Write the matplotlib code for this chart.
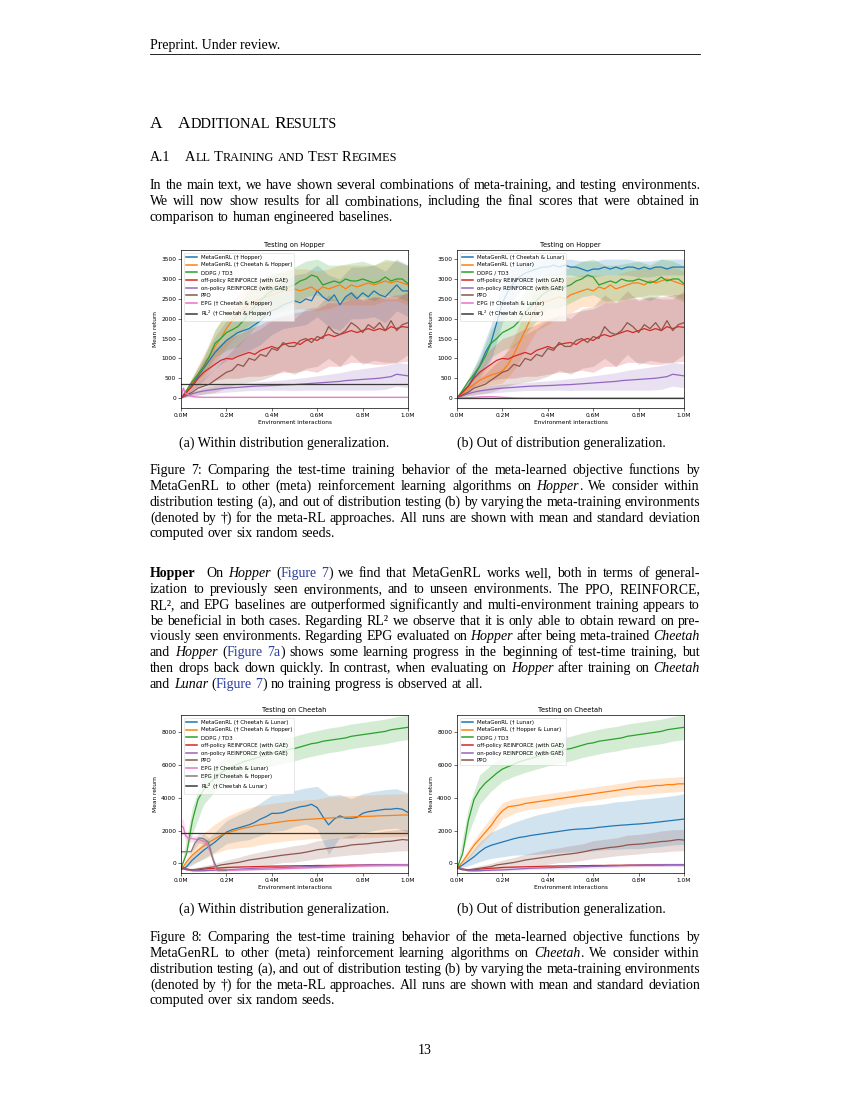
import numpy as np
import matplotlib
matplotlib.use('Agg')
import matplotlib.pyplot as plt
from matplotlib.lines import Line2D

# ---------------------------------------------------------------- data
steps = np.linspace(0.0, 1.0, 41)          # million environment interactions

# Hopper baselines (shared by both Hopper panels)
hop_ddpg = [0, 200, 420, 600, 800, 1050, 1380, 1500, 1650, 1720, 1800, 1950, 2150, 2300, 2450,
            2600, 2700, 2750, 2720, 2800, 2850, 2950, 3000, 3100, 3050, 2850, 2900, 2950, 2900,
            3000, 2950, 2950, 3000, 2950, 2900, 2950, 3050, 2950, 3000, 3000, 2880]
hop_ddpg_sd = [0, 100, 200, 350, 450, 500, 550, 500, 450, 450, 450, 450, 450, 450, 450, 450, 450,
               450, 450, 450, 450]
hop_offpol = [0, 150, 300, 500, 650, 750, 850, 950, 1000, 980, 1050, 1100, 1150, 1100, 1200, 1250,
              1300, 1250, 1350, 1380, 1400, 1350, 1450, 1500, 1450, 1550, 1600, 1550, 1600, 1650,
              1700, 1650, 1700, 1750, 1700, 1750, 1700, 1800, 1750, 1800, 1780]
hop_offpol_sd = [0, 100, 300, 400, 500, 550, 600, 650, 700, 700, 750, 750, 800, 800, 800, 800, 800,
                 850, 850, 850, 850]
hop_onpol = [0, 60, 110, 150, 180, 200, 220, 240, 250, 260, 270, 280, 290, 300, 305, 310, 315, 320,
             330, 335, 340, 350, 360, 370, 380, 390, 400, 410, 420, 440, 450, 460, 470, 480, 490,
             500, 520, 540, 600, 580, 560]
hop_onpol_sd = [0, 50, 80, 100, 100, 100, 100, 110, 120, 130, 150, 160, 180, 200, 220, 250, 270,
                290, 300, 300, 300]
hop_ppo = [0, 80, 150, 250, 300, 350, 450, 550, 650, 700, 850, 800, 1000, 950, 1100, 1050, 1250,
           1200, 1400, 1300, 1300, 1450, 1500, 1400, 1550, 1500, 1800, 1650, 1600, 1700, 1900, 1800,
           1650, 1850, 1750, 1900, 1700, 1950, 1700, 1850, 1900]
hop_ppo_sd = [0, 100, 200, 300, 400, 500, 600, 650, 700, 700, 700, 750, 750, 800, 800, 800, 800,
              800, 800, 800, 800]

# Hopper (a)
hopA_mg1 = [0, 150, 350, 550, 750, 950, 1150, 1300, 1450, 1550, 1650, 1700, 1750, 1850, 1950, 2100,
            2200, 2250, 2350, 2400, 2450, 2400, 2500, 2450, 2700, 2550, 2450, 2600, 2350, 2550,
            2650, 2500, 2650, 2550, 2700, 2600, 2550, 2700, 2850, 2700, 2700]
hopA_mg1_sd = [0, 150, 300, 400, 500, 550, 550, 600, 600, 600, 650, 650, 650, 650, 650, 650, 650,
               650, 650, 650, 650]
hopA_mg2 = [0, 180, 400, 600, 800, 1050, 1300, 1500, 1750, 1950, 2100, 2250, 2350, 2450, 2500, 2550,
            2600, 2650, 2700, 2700, 2750, 2700, 2750, 2800, 2700, 2800, 2750, 2800, 2850, 2750,
            2850, 2800, 2850, 2900, 2850, 2900, 2950, 2900, 2950, 2900, 2850]
hopA_mg2_sd = [0, 150, 300, 400, 450, 500, 500, 500, 500, 500, 500, 500, 500, 500, 500, 500, 500,
               500, 500, 500, 500]
hopA_epg_x = [0, 0.01, 0.02, 0.04, 0.06, 0.1, 0.2, 0.4, 0.6, 0.8, 1.0]
hopA_epg = [0, 250, 120, 60, 30, 20, 20, 20, 20, 20, 20]
hopA_epg_sd = [0, 80, 60, 40, 20, 10, 10, 10, 10, 10, 10]
hopA_rl2 = 355

# Hopper (b)
hopB_mg1 = [0, 150, 300, 550, 800, 1150, 1400, 1900, 2400, 2700, 2900, 3050, 3150, 3200, 3250, 3300,
            3300, 3350, 3300, 3350, 3300, 3300, 3250, 3200, 3250, 3250, 3300, 3250, 3300, 3250,
            3300, 3300, 3250, 3300, 3250, 3300, 3300, 3250, 3300, 3300, 3300]
hopB_mg1_sd = [0, 150, 300, 450, 500, 400, 300, 250, 200, 200, 200, 200, 200, 200, 200, 200, 200,
               200, 200, 200, 200]
hopB_mg2 = [0, 120, 250, 350, 450, 520, 580, 620, 680, 850, 1100, 1400, 1700, 2000, 2300, 2400, 2450,
            2500, 2550, 2500, 2600, 2650, 2700, 2750, 2700, 2800, 2750, 2850, 2750, 2800, 2850,
            2900, 2900, 2850, 2950, 2900, 2950, 3000, 2950, 2900, 2850]
hopB_mg2_sd = [0, 100, 200, 250, 300, 400, 500, 600, 600, 500, 450, 400, 400, 350, 350, 350, 350,
               350, 350, 350, 350]
hopB_epg_x = [0, 0.05, 0.1, 0.15, 0.2, 0.25, 0.3, 0.6, 1.0]
hopB_epg = [0, 10, 30, 35, 20, 5, 0, 0, 0]
hopB_epg_sd = [0, 10, 20, 20, 15, 5, 0, 0, 0]
hopB_rl2 = 0

# Cheetah baselines (shared by both Cheetah panels)
che_ddpg = [-300, 600, 2600, 3900, 4500, 4900, 5200, 5500, 5750, 5900, 6050, 6200, 6300, 6400, 6500,
            6600, 6700, 6800, 6850, 6950, 7000, 7100, 7200, 7300, 7350, 7450, 7500, 7550, 7600,
            7650, 7750, 7800, 7850, 7900, 7950, 8000, 8050, 8150, 8200, 8250, 8300]
che_ddpg_sd = [0, 800, 900, 800, 750, 750, 750, 750, 750, 750, 750, 750, 750, 750, 750, 750, 750,
               750, 750, 750, 750]
che_offpol = [-200, -350, -420, -400, -350, -320, -300, -280, -250, -240, -230, -220, -210, -200,
              -190, -180, -170, -170, -160, -160, -150, -150, -140, -140, -130, -130, -130, -120,
              -120, -120, -110, -110, -110, -100, -100, -100, -100, -90, -90, -90, -90]
che_offpol_sd = [0, 100, 80, 70, 60, 60, 60, 60, 60, 60, 60, 60, 60, 60, 60, 60, 60, 60, 60, 60, 60]
che_onpol = [-250, -350, -420, -450, -450, -430, -420, -410, -400, -380, -360, -340, -320, -300,
             -290, -280, -270, -260, -250, -240, -230, -220, -210, -200, -190, -180, -170, -160,
             -150, -140, -130, -120, -110, -100, -100, -90, -90, -80, -80, -80, -80]
che_onpol_sd = [0, 50, 50, 50, 50, 60, 70, 80, 90, 100, 100, 100, 100, 100, 100, 100, 100, 100, 100,
                100, 100]
che_ppo = [-300, -400, -400, -350, -300, -250, -200, -100, -50, 0, 50, 120, 200, 250, 300, 350, 400,
           450, 500, 540, 580, 620, 680, 750, 830, 870, 920, 970, 1000, 1050, 1120, 1150, 1170,
           1200, 1250, 1280, 1330, 1350, 1400, 1450, 1420]
che_ppo_sd = [0, 100, 150, 200, 250, 300, 350, 400, 450, 450, 500, 500, 550, 550, 550, 600, 600, 600,
              650, 650, 650]

# Cheetah (a)
cheA_mg1 = [-400, -200, 200, 500, 800, 1050, 1300, 1600, 1900, 2050, 2150, 2250, 2350, 2500, 2700,
            2850, 3050, 3050, 3100, 3250, 3350, 3450, 3500, 3600, 3400, 2850, 2350, 2700, 2900,
            2750, 2750, 2800, 3050, 3150, 3200, 3250, 3300, 3300, 3350, 3300, 3100]
cheA_mg1_sd = [0, 300, 500, 600, 700, 800, 900, 1000, 1100, 1100, 1100, 1100, 1300, 1800, 1300, 1200,
               1200, 1200, 1200, 1200, 1200]
cheA_mg2 = [-400, 100, 500, 800, 1050, 1300, 1500, 1700, 1850, 1950, 2050, 2150, 2200, 2300, 2350,
            2400, 2450, 2500, 2550, 2600, 2620, 2650, 2680, 2700, 2720, 2740, 2760, 2780, 2800,
            2820, 2830, 2850, 2860, 2870, 2880, 2900, 2910, 2920, 2930, 2950, 2950]
cheA_mg2_sd = [0, 500, 800, 900, 1000, 1100, 1200, 1200, 1200, 1200, 1200, 1200, 1200, 1300, 1300,
               1300, 1300, 1300, 1300, 1300, 1300]
cheA_epg1_x = [0, 0.01, 0.02, 0.03, 0.05, 0.08, 0.11, 0.13, 0.155, 0.2, 0.4, 0.6, 0.8, 1.0]
cheA_epg1 = [2300, 2200, 1700, 1550, 1500, 1450, 1300, 700, -420, -430, -350, -250, -150, -100]
cheA_epg1_sd = [500, 450, 300, 250, 200, 200, 200, 200, 100, 50, 50, 50, 50, 50]
cheA_epg2_x = [0, 0.02, 0.045, 0.06, 0.08, 0.1, 0.12, 0.14, 0.16, 0.2]
cheA_epg2 = [710, 710, 720, 1200, 1550, 1500, 1300, 300, -400, -430]
cheA_epg2_sd = [80, 80, 80, 300, 300, 300, 300, 200, 100, 50]
cheA_rl2 = 1870

# Cheetah (b)
cheB_mg1 = [-300, -100, 150, 400, 700, 950, 1100, 1200, 1300, 1400, 1500, 1580, 1630, 1700, 1750,
            1800, 1850, 1900, 1950, 2000, 2050, 2080, 2100, 2120, 2150, 2200, 2230, 2270, 2300,
            2330, 2350, 2380, 2400, 2430, 2460, 2500, 2540, 2580, 2620, 2660, 2700]
cheB_mg1_sd = [0, 300, 600, 800, 900, 1000, 1100, 1200, 1250, 1300, 1350, 1400, 1400, 1400, 1450,
               1450, 1500, 1500, 1500, 1500, 1550]
cheB_mg2 = [-300, 100, 600, 1100, 1500, 1900, 2300, 2800, 3200, 3450, 3500, 3550, 3650, 3700, 3750,
            3800, 3850, 3900, 3950, 4000, 4050, 4100, 4150, 4200, 4250, 4300, 4350, 4400, 4450,
            4500, 4550, 4600, 4650, 4650, 4700, 4750, 4750, 4800, 4800, 4850, 4850]
cheB_mg2_sd = [0, 300, 400, 500, 500, 450, 400, 400, 400, 400, 400, 400, 400, 400, 400, 400, 450,
               450, 450, 450, 450]

x_ticks = [0.0, 0.2, 0.4, 0.6, 0.8, 1.0]
x_ticklabels = ['0.0M', '0.2M', '0.4M', '0.6M', '0.8M', '1.0M']
hop_yticks = [0, 500, 1000, 1500, 2000, 2500, 3000, 3500]
che_yticks = [0, 2000, 4000, 6000, 8000]

# ---------------------------------------------------------------- style
W, H = 850, 1100
C_BLUE, C_ORANGE, C_GREEN, C_RED = '#1f77b4', '#ff7f0e', '#2ca02c', '#d62728'
C_PURPLE, C_BROWN, C_PINK, C_GRAY = '#9467bd', '#8c564b', '#e377c2', '#7f7f7f'
C_RL2 = '#3a3a3a'
LINK = '#2b3fa0'
SERIF = 'Liberation Serif'

fig = plt.figure(figsize=(W / 100, H / 100), dpi=100)
fig.patch.set_facecolor('white')


def panel(rect, title, curves, ylim, yticks, rl2=None, rl2_label=None):
    l, t, r, b = rect
    ax = fig.add_axes([l / W, 1 - b / H, (r - l) / W, (b - t) / H])
    for xs, m, sd, color, label in curves:
        xs = np.asarray(xs, float)
        m = np.asarray(m, float)
        sd = np.asarray(sd, float)
        if len(sd) == len(m):
            bx, bm = xs, m
        else:
            bx, bm = xs[::2], m[::2]
        ax.fill_between(bx * 1e6, bm - sd, bm + sd, color=color, alpha=0.2, lw=0, zorder=1)
    for xs, m, sd, color, label in curves:
        ax.plot(np.asarray(xs, float) * 1e6, m, color=color, lw=0.9, label=label, zorder=2)
    if rl2 is not None:
        ax.axhline(rl2, color=C_RL2, lw=0.9, label=rl2_label, zorder=2)
    ax.set_xlim(0, 1e6)
    ax.set_ylim(*ylim)
    ax.set_xticks([v * 1e6 for v in x_ticks])
    ax.set_xticklabels(x_ticklabels)
    ax.set_yticks(yticks)
    ax.tick_params(labelsize=4.2, length=2, width=0.4, pad=1.5)
    for s in ax.spines.values():
        s.set_linewidth(0.5)
    ax.set_title(title, fontsize=4.8, pad=2.5)
    ax.set_xlabel('Environment interactions', fontsize=4.2, labelpad=1.2)
    ax.set_ylabel('Mean return', fontsize=4.2, labelpad=2)
    leg = ax.legend(loc='upper left', fontsize=3.85, framealpha=0.8, borderpad=0.4,
                    handlelength=2.0, labelspacing=0.5, borderaxespad=0.5)
    leg.get_frame().set_linewidth(0.4)
    for h in leg.get_lines():
        h.set_linewidth(1.1)
    return ax


OFF = 'off-policy REINFORCE (with GAE)'
ON = 'on-policy REINFORCE (with GAE)'

panel((181, 250, 408, 408), 'Testing on Hopper', [
    (steps, hopA_mg1, hopA_mg1_sd, C_BLUE, 'MetaGenRL († Hopper)'),
    (steps, hopA_mg2, hopA_mg2_sd, C_ORANGE, 'MetaGenRL († Cheetah & Hopper)'),
    (steps, hop_ddpg, hop_ddpg_sd, C_GREEN, 'DDPG / TD3'),
    (steps, hop_offpol, hop_offpol_sd, C_RED, OFF),
    (steps, hop_onpol, hop_onpol_sd, C_PURPLE, ON),
    (steps, hop_ppo, hop_ppo_sd, C_BROWN, 'PPO'),
    (hopA_epg_x, hopA_epg, hopA_epg_sd, C_PINK, 'EPG († Cheetah & Hopper)'),
], (-250, 3730), hop_yticks, hopA_rl2, 'RL$^2$ († Cheetah & Hopper)')

panel((457, 250, 684, 408), 'Testing on Hopper', [
    (steps, hopB_mg1, hopB_mg1_sd, C_BLUE, 'MetaGenRL († Cheetah & Lunar)'),
    (steps, hopB_mg2, hopB_mg2_sd, C_ORANGE, 'MetaGenRL († Lunar)'),
    (steps, hop_ddpg, hop_ddpg_sd, C_GREEN, 'DDPG / TD3'),
    (steps, hop_offpol, hop_offpol_sd, C_RED, OFF),
    (steps, hop_onpol, hop_onpol_sd, C_PURPLE, ON),
    (steps, hop_ppo, hop_ppo_sd, C_BROWN, 'PPO'),
    (hopB_epg_x, hopB_epg, hopB_epg_sd, C_PINK, 'EPG († Cheetah & Lunar)'),
], (-250, 3730), hop_yticks, hopB_rl2, 'RL$^2$ († Cheetah & Lunar)')

panel((181, 715, 408, 873), 'Testing on Cheetah', [
    (steps, cheA_mg1, cheA_mg1_sd, C_BLUE, 'MetaGenRL († Cheetah & Lunar)'),
    (steps, cheA_mg2, cheA_mg2_sd, C_ORANGE, 'MetaGenRL († Cheetah & Hopper)'),
    (steps, che_ddpg, che_ddpg_sd, C_GREEN, 'DDPG / TD3'),
    (steps, che_offpol, che_offpol_sd, C_RED, OFF),
    (steps, che_onpol, che_onpol_sd, C_PURPLE, ON),
    (steps, che_ppo, che_ppo_sd, C_BROWN, 'PPO'),
    (cheA_epg1_x, cheA_epg1, cheA_epg1_sd, C_PINK, 'EPG († Cheetah & Lunar)'),
    (cheA_epg2_x, cheA_epg2, cheA_epg2_sd, C_GRAY, 'EPG († Cheetah & Hopper)'),
], (-590, 9050), che_yticks, cheA_rl2, 'RL$^2$ († Cheetah & Lunar)')

panel((457, 715, 684, 873), 'Testing on Cheetah', [
    (steps, cheB_mg1, cheB_mg1_sd, C_BLUE, 'MetaGenRL († Lunar)'),
    (steps, cheB_mg2, cheB_mg2_sd, C_ORANGE, 'MetaGenRL († Hopper & Lunar)'),
    (steps, che_ddpg, che_ddpg_sd, C_GREEN, 'DDPG / TD3'),
    (steps, che_offpol, che_offpol_sd, C_RED, OFF),
    (steps, che_onpol, che_onpol_sd, C_PURPLE, ON),
    (steps, che_ppo, che_ppo_sd, C_BROWN, 'PPO'),
], (-590, 9050), che_yticks)

# ---------------------------------------------------------------- page text
renderer = fig.canvas.get_renderer()


def mk(x, y, s, size=10, st='n', ha='left'):
    kw = dict(fontsize=size, family=SERIF, va='baseline', ha=ha, color='black')
    if st == 'i':
        kw['style'] = 'italic'
    elif st == 'b':
        kw['weight'] = 'bold'
    elif st == 'l':
        kw['color'] = LINK
    return fig.text(x / W, 1 - y / H, s, **kw)


def width(t):
    return t.get_window_extent(renderer).width


_a = mk(0, -50, 'x x')
_b = mk(0, -50, 'xx')
SPACE = width(_a) - width(_b)
_a.remove()
_b.remove()


def to_words(segs):
    words = [[]]
    for text, st in segs:
        parts = text.split(' ')
        for i, p in enumerate(parts):
            if i > 0 and words[-1]:
                words.append([])
            if p:
                words[-1].append((p, st))
    if not words[-1]:
        words.pop()
    return words


def line(y, segs, justify=True, x0=150, x1=700, size=10):
    placed = []
    total = 0
    for w in to_words(segs):
        items = []
        ww = 0
        for s, st in w:
            t = mk(0, y, s, size, st)
            wd = width(t)
            items.append((t, wd))
            ww += wd
        placed.append((items, ww))
        total += ww
    gap = SPACE
    if justify and len(placed) > 1:
        gap = (x1 - x0 - total) / (len(placed) - 1)
    x = x0
    for items, ww in placed:
        xx = x
        for t, wd in items:
            t.set_x(xx / W)
            xx += wd
        x += ww + gap


def block(y0, lines, step=15.85):
    for i, segs in enumerate(lines):
        line(y0 + i * step, segs, justify=(i < len(lines) - 1))


def runs(x, y, words, space_size):
    for word in words:
        for s, sz in word:
            t = mk(x, y, s, sz)
            x += width(t)
        x += SPACE * space_size / 10.0


# header
mk(150, 49, 'Preprint. Under review.')
fig.add_artist(Line2D([150 / W, 700 / W], [1 - 54 / H] * 2, lw=0.6, color='black'))

# section headings (small caps)
mk(150, 128, 'A', 12.5)
runs(178, 128, [[('A', 12.5), ('DDITIONAL', 10.4)], [('R', 12.5), ('ESULTS', 10.4)]], 12.5)
mk(150, 161, 'A.1', 10)
runs(185, 161, [[('A', 10.4), ('LL', 8.8)], [('T', 10.4), ('RAINING', 8.8)], [('AND', 8.8)],
                [('T', 10.4), ('EST', 8.8)], [('R', 10.4), ('EGIMES', 8.8)]], 10.4)

block(189, [
    [("In the main text, we have shown several combinations of meta-training, and testing environments.", 'n')],
    [("We will now show results for all combinations, including the final scores that were obtained in", 'n')],
    [("comparison to human engineered baselines.", 'n')],
])

# sub-captions
for yb in (447, 913):
    mk(284, yb, '(a) Within distribution generalization.', ha='center')
    mk(561, yb, '(b) Out of distribution generalization.', ha='center')


def caption(y0, num, env):
    block(y0, [
        [("Figure %d: Comparing the test-time training behavior of the meta-learned objective functions by" % num, 'n')],
        [("MetaGenRL to other (meta) reinforcement learning algorithms on ", 'n'), (env, 'i'),
         (".  We consider within", 'n')],
        [("distribution testing (a), and out of distribution testing (b) by varying the meta-training environments", 'n')],
        [("(denoted by †) for the meta-RL approaches.  All runs are shown with mean and standard deviation", 'n')],
        [("computed over six random seeds.", 'n')],
    ])


caption(474, 7, 'Hopper')
caption(941, 8, 'Cheetah')

# Hopper paragraph
y_h = 577
hb = mk(150, y_h, 'Hopper', 10, 'b')
line(y_h, [("On ", 'n'), ("Hopper", 'i'), (" (", 'n'), ("Figure 7", 'l'),
           (") we find that MetaGenRL works well, both in terms of general-", 'n')],
     x0=150 + width(hb) + 11)
block(y_h + 15.85, [
    [("ization to previously seen environments, and to unseen environments.  The PPO, REINFORCE,", 'n')],
    [("RL², and EPG baselines are outperformed significantly and multi-environment training appears to", 'n')],
    [("be beneficial in both cases.  Regarding RL² we observe that it is only able to obtain reward on pre-", 'n')],
    [("viously seen environments.  Regarding EPG evaluated on ", 'n'), ("Hopper", 'i'),
     (" after being meta-trained ", 'n'), ("Cheetah", 'i')],
    [("and ", 'n'), ("Hopper", 'i'), (" (", 'n'), ("Figure 7a", 'l'),
     (") shows some learning progress in the beginning of test-time training, but", 'n')],
    [("then drops back down quickly.  In contrast, when evaluating on ", 'n'), ("Hopper", 'i'),
     (" after training on ", 'n'), ("Cheetah", 'i')],
    [("and ", 'n'), ("Lunar", 'i'), (" (", 'n'), ("Figure 7", 'l'),
     (") no training progress is observed at all.", 'n')],
])

mk(425, 1054, '13', ha='center')

fig.savefig('out.png', dpi=100)
